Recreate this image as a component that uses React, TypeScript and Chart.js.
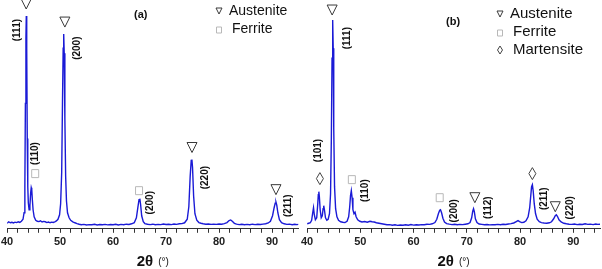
import React, { useEffect, useRef } from 'react';
import { Chart, registerables } from 'chart.js';
Chart.register(...registerables);

// ---------- data: panel (a) ----------
const A_X = [
  40.0, 40.3, 40.6, 40.9, 41.2, 41.5, 41.8, 42.1, 42.4, 42.7,
  43.0, 43.2, 43.35, 43.45, 43.55, 43.62, 43.7, 43.8, 43.9, 44.0,
  44.15, 44.3, 44.45, 44.55, 44.65, 44.75, 44.9, 45.1, 45.4, 45.7,
  46.0, 46.3, 46.6, 46.9, 47.2, 47.5, 47.8, 48.1, 48.4, 48.7,
  49.0, 49.3, 49.6, 49.9, 50.1, 50.3, 50.45, 50.58, 50.68, 50.78,
  50.9, 51.05, 51.2, 51.4, 51.7, 52.0, 52.4, 52.8, 53.2, 53.6,
  54.0, 54.5, 55.0, 55.5, 56.0, 56.5, 57.0, 57.5, 58.0, 58.5,
  59.0, 59.5, 60.0, 60.5, 61.0, 61.5, 62.0, 62.5, 63.0, 63.5,
  64.0, 64.4, 64.7, 64.9, 65.05, 65.2, 65.4, 65.7, 66.0, 66.5,
  67.0, 67.5, 68.0, 68.5, 69.0, 69.5, 70.0, 70.5, 71.0, 71.5,
  72.0, 72.5, 73.0, 73.5, 74.0, 74.3, 74.55, 74.75, 74.88, 75.0,
  75.2, 75.45, 75.8, 76.2, 76.6, 77.0, 77.5, 78.0, 78.5, 79.0,
  79.5, 80.0, 80.5, 81.0, 81.5, 81.9, 82.2, 82.5, 82.9, 83.3,
  83.8, 84.3, 84.8, 85.3, 85.8, 86.3, 86.8, 87.3, 87.8, 88.3,
  88.8, 89.3, 89.7, 90.1, 90.4, 90.6, 90.75, 90.9, 91.1, 91.4,
  91.8, 92.3, 92.8, 93.3, 93.8, 94.3, 94.7, 95.0,
];
const A_I = [
  55, 70, 60, 65, 58, 66, 62, 70, 64, 75,
  95, 160, 420, 1250, 1900, 2120, 1800, 900, 420, 260,
  190, 230, 360, 410, 390, 300, 190, 120, 85, 75,
  72, 80, 68, 74, 70, 62, 68, 60, 66, 63,
  70, 78, 95, 140, 250, 560, 1250, 1800, 1940, 1750,
  1100, 520, 280, 160, 110, 85, 70, 60, 52, 45,
  40, 44, 38, 42, 40, 45, 38, 43, 40, 44,
  39, 43, 40, 45, 38, 44, 41, 46, 43, 50,
  60, 110, 220, 290, 300, 240, 130, 70, 52, 45,
  42, 46, 40, 44, 42, 47, 43, 45, 42, 48,
  44, 50, 52, 60, 95, 220, 520, 680, 690, 610,
  330, 150, 85, 62, 55, 50, 46, 48, 44, 47,
  44, 48, 46, 52, 62, 82, 88, 75, 55, 46,
  42, 45, 40, 44, 41, 46, 42, 45, 43, 47,
  50, 58, 75, 130, 210, 255, 265, 235, 160, 90,
  62, 50, 44, 46, 40, 45, 42, 44,
];

// ---------- data: panel (b) ----------
const B_X = [
  40.0, 40.3, 40.6, 40.85, 41.05, 41.2, 41.35, 41.55, 41.8, 42.0,
  42.1, 42.2, 42.3, 42.45, 42.65, 42.85, 43.0, 43.12, 43.25, 43.45,
  43.7, 43.95, 44.2, 44.4, 44.55, 44.68, 44.8, 44.9, 45.0, 45.15,
  45.35, 45.6, 45.9, 46.3, 46.7, 47.1, 47.5, 47.8, 48.0, 48.15,
  48.3, 48.45, 48.6, 48.8, 49.0, 49.2, 49.5, 49.9, 50.3, 50.8,
  51.3, 51.8, 52.2, 52.6, 53.0, 53.5, 54.0, 54.5, 55.0, 55.5,
  56.0, 56.5, 57.0, 57.5, 58.0, 58.5, 59.0, 59.5, 60.0, 60.5,
  61.0, 61.5, 62.0, 62.5, 63.0, 63.5, 64.0, 64.35, 64.65, 64.9,
  65.05, 65.25, 65.5, 65.8, 66.2, 66.7, 67.2, 67.7, 68.2, 68.7,
  69.2, 69.7, 70.2, 70.6, 70.9, 71.1, 71.25, 71.4, 71.6, 71.9,
  72.3, 72.8, 73.3, 73.8, 74.3, 74.8, 75.3, 75.8, 76.3, 76.8,
  77.3, 77.8, 78.3, 78.8, 79.2, 79.6, 79.9, 80.3, 80.7, 81.1,
  81.5, 81.8, 82.0, 82.15, 82.3, 82.45, 82.65, 82.9, 83.2, 83.6,
  84.0, 84.5, 85.0, 85.5, 85.9, 86.3, 86.6, 86.8, 87.0, 87.3,
  87.7, 88.2, 88.7, 89.2, 89.7, 90.2, 90.7, 91.2, 91.7, 92.2,
  92.7, 93.2, 93.7, 94.2, 94.6, 95.0,
];
const B_I = [
  50, 55, 60, 85, 160, 210, 140, 90, 110, 250,
  340, 370, 320, 190, 110, 130, 200, 230, 190, 110,
  85, 95, 150, 350, 900, 1700, 2080, 1800, 1000, 420,
  200, 120, 85, 70, 65, 62, 75, 120, 220, 330,
  380, 310, 190, 150, 165, 120, 90, 75, 68, 72,
  65, 75, 70, 68, 60, 55, 50, 45, 40, 42,
  36, 40, 34, 38, 35, 40, 36, 42, 37, 40,
  38, 42, 40, 45, 44, 50, 62, 95, 150, 185,
  190, 160, 105, 68, 52, 46, 42, 45, 40, 44,
  42, 46, 50, 62, 110, 175, 200, 170, 100, 62,
  48, 44, 40, 43, 39, 42, 40, 44, 41, 45,
  43, 48, 52, 58, 70, 82, 72, 62, 65, 80,
  120, 210, 330, 420, 440, 380, 250, 150, 95, 70,
  62, 58, 55, 60, 70, 100, 130, 140, 125, 90,
  68, 55, 50, 46, 44, 48, 42, 46, 43, 50,
  44, 47, 42, 48, 44, 46,
];

// ---------- axis ticks ----------
const TICKS = [40, 42, 44, 46, 48, 50, 52, 54, 56, 58, 60, 62, 64, 66, 68, 70, 72, 74, 76, 78, 80, 82, 84, 86, 88, 90, 92, 94];

// ---------- peak annotations (2θ, intensity) ----------
const A_SYM_KIND = ['tri', 'tri', 'sq', 'sq', 'tri', 'tri'];
const A_SYM_X = [43.6, 50.9, 45.3, 64.9, 74.9, 90.75];
const A_SYM_Y = [2240, 2060, 550, 380, 810, 390];
const A_LBL_TEXT = ['(111)', '(200)', '(110)', '(200)', '(220)', '(211)'];
const A_LBL_X = [41.9, 53.2, 45.3, 67.0, 77.4, 93.0];
const A_LBL_Y = [1980, 1800, 750, 260, 510, 230];

const B_SYM_KIND = ['tri', 'dia', 'sq', 'sq', 'tri', 'dia', 'tri'];
const B_SYM_X = [44.7, 42.4, 48.4, 64.9, 71.5, 82.3, 86.6];
const B_SYM_Y = [2180, 500, 490, 310, 310, 550, 220];
const B_LBL_TEXT = ['(111)', '(101)', '(110)', '(200)', '(112)', '(211)', '(220)'];
const B_LBL_X = [47.5, 42.1, 50.9, 67.7, 74.1, 84.6, 89.4];
const B_LBL_Y = [1900, 780, 380, 180, 210, 300, 210];

// ---------- legends ----------
const A_LEGEND_KIND = ['tri', 'sq'];
const A_LEGEND_TEXT = ['Austenite', 'Ferrite'];
const B_LEGEND_KIND = ['tri', 'sq', 'dia'];
const B_LEGEND_TEXT = ['Austenite', 'Ferrite', 'Martensite'];

const FONT = '"Liberation Sans", Arial, sans-serif';

function drawSymbol(ctx: CanvasRenderingContext2D, kind: string, cx: number, cy: number, w: number, h: number) {
  ctx.save();
  ctx.lineWidth = 1;
  ctx.beginPath();
  if (kind === 'tri') {
    ctx.strokeStyle = '#3a3a3a';
    ctx.moveTo(cx - w / 2, cy - h / 2);
    ctx.lineTo(cx + w / 2, cy - h / 2);
    ctx.lineTo(cx, cy + h / 2);
    ctx.closePath();
    ctx.stroke();
  } else if (kind === 'sq') {
    ctx.strokeStyle = '#b8b8b8';
    ctx.fillStyle = '#fff';
    ctx.rect(cx - w / 2, cy - h / 2, w, h);
    ctx.fill();
    ctx.stroke();
  } else {
    ctx.strokeStyle = '#444';
    ctx.moveTo(cx, cy - h / 2);
    ctx.lineTo(cx + w / 2, cy);
    ctx.lineTo(cx, cy + h / 2);
    ctx.lineTo(cx - w / 2, cy);
    ctx.closePath();
    ctx.stroke();
  }
  ctx.restore();
}

type PanelProps = {
  left: number;
  width: number;
  xs: number[];
  ys: number[];
  symKind: string[];
  symX: number[];
  symY: number[];
  lblText: string[];
  lblX: number[];
  lblY: number[];
  tag: string;
  tagPos: [number, number];
  legendKind: string[];
  legendText: string[];
  legendPos: [number, number];
  legendFont: number;
  padRight: number;
};

function Panel(p: PanelProps) {
  const ref = useRef<HTMLCanvasElement | null>(null);
  useEffect(() => {
    if (!ref.current) return;
    const annot = {
      id: 'annot',
      afterDatasetsDraw(chart: any) {
        const ctx = chart.ctx as CanvasRenderingContext2D;
        const xs = chart.scales.x;
        const ysc = chart.scales.y;
        p.symKind.forEach((k, i) => {
          const cx = xs.getPixelForValue(p.symX[i]);
          const cy = ysc.getPixelForValue(p.symY[i]);
          if (k === 'tri') drawSymbol(ctx, k, cx, cy, 10, 10);
          else if (k === 'sq') drawSymbol(ctx, k, cx, cy, 7, 8);
          else drawSymbol(ctx, k, cx, cy, 7, 12);
        });
        ctx.save();
        ctx.fillStyle = '#111';
        ctx.font = `bold 10px ${FONT}`;
        ctx.textAlign = 'center';
        ctx.textBaseline = 'middle';
        p.lblText.forEach((t, i) => {
          const cx = xs.getPixelForValue(p.lblX[i]);
          const cy = ysc.getPixelForValue(p.lblY[i]);
          ctx.save();
          ctx.translate(cx, cy);
          ctx.rotate(-Math.PI / 2);
          ctx.fillText(t, 0, 0);
          ctx.restore();
        });
        ctx.font = `bold 11px ${FONT}`;
        ctx.fillStyle = '#111';
        ctx.textAlign = 'left';
        ctx.fillText(p.tag, p.tagPos[0], p.tagPos[1]);
        ctx.font = `${p.legendFont}px ${FONT}`;
        ctx.fillStyle = '#111';
        p.legendKind.forEach((k, i) => {
          const yy = p.legendPos[1] + i * 18;
          const sx = p.legendPos[0];
          if (k === 'tri') drawSymbol(ctx, k, sx, yy, 6, 6);
          else if (k === 'sq') drawSymbol(ctx, k, sx, yy + 1, 5, 6);
          else drawSymbol(ctx, k, sx, yy, 5, 8);
          ctx.fillText(p.legendText[i], sx + (k === 'tri' ? 10 : 13), yy);
        });
        const a = chart.chartArea;
        const mid = (a.left + a.right) / 2;
        ctx.font = `bold 15px ${FONT}`;
        const w1 = ctx.measureText('2θ').width;
        ctx.font = `10px ${FONT}`;
        const w2 = ctx.measureText('(°)').width;
        const gap = 5;
        const start = mid - (w1 + gap + w2) / 2;
        ctx.font = `bold 15px ${FONT}`;
        ctx.fillText('2θ', start, 262);
        ctx.font = `10px ${FONT}`;
        ctx.fillText('(°)', start + w1 + gap, 262);
        ctx.restore();
      },
    };
    const chart = new Chart(ref.current, {
      type: 'line',
      data: {
        datasets: [
          {
            data: p.xs.map((x, i) => ({ x, y: p.ys[i] })),
            borderColor: '#1a1ad6',
            borderWidth: 1.4,
            pointRadius: 0,
            tension: 0,
            fill: false,
          },
        ],
      },
      options: {
        responsive: false,
        animation: false,
        layout: { padding: { left: 5, right: p.padRight, top: 3, bottom: 17 } },
        plugins: { legend: { display: false }, tooltip: { enabled: false } },
        scales: {
          x: {
            type: 'linear',
            min: 40,
            max: 95,
            afterBuildTicks: (s: any) => {
              s.ticks = TICKS.map((v) => ({ value: v }));
            },
            ticks: {
              autoSkip: false,
              maxRotation: 0,
              padding: 3,
              color: '#222',
              font: { family: FONT, size: 11, weight: 'bold' },
              callback: (v: any) => (Number(v) % 10 === 0 ? String(v) : ''),
            },
            grid: { drawOnChartArea: false, drawTicks: true, tickLength: 4, color: '#333' },
            border: { display: true, color: '#333', width: 1 },
          },
          y: { display: false, min: 0, max: 2250 },
        },
      } as any,
      plugins: [annot],
    });
    return () => chart.destroy();
  }, []);
  return (
    <canvas
      ref={ref}
      width={p.width}
      height={269}
      style={{ position: 'absolute', left: p.left, top: 0, width: p.width, height: 269, display: 'block' }}
    />
  );
}

export default function App() {
  return (
    <div style={{ position: 'fixed', left: 0, top: 0, width: 602, height: 269, background: '#fff', overflow: 'hidden' }}>
      <Panel
        left={-2}
        width={302}
        xs={A_X}
        ys={A_I}
        symKind={A_SYM_KIND}
        symX={A_SYM_X}
        symY={A_SYM_Y}
        lblText={A_LBL_TEXT}
        lblX={A_LBL_X}
        lblY={A_LBL_Y}
        tag="(a)"
        tagPos={[136, 15]}
        legendKind={A_LEGEND_KIND}
        legendText={A_LEGEND_TEXT}
        legendPos={[221, 11]}
        legendFont={14}
        padRight={1.5}
      />
      <Panel
        left={298}
        width={304}
        xs={B_X}
        ys={B_I}
        symKind={B_SYM_KIND}
        symX={B_SYM_X}
        symY={B_SYM_Y}
        lblText={B_LBL_TEXT}
        lblX={B_LBL_X}
        lblY={B_LBL_Y}
        tag="(b)"
        tagPos={[148, 22]}
        legendKind={B_LEGEND_KIND}
        legendText={B_LEGEND_TEXT}
        legendPos={[202, 14]}
        legendFont={15}
        padRight={2}
      />
    </div>
  );
}
